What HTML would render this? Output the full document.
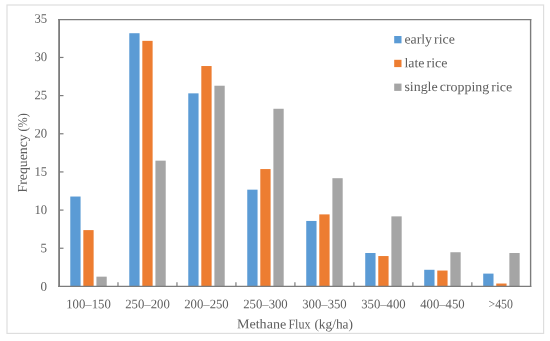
<!DOCTYPE html>
<html><head><meta charset="utf-8"><title>Methane Flux Frequency</title>
<style>html,body{margin:0;padding:0;background:#fff;overflow:hidden}svg{display:block}text{font-family:"Liberation Serif",serif;fill:#5e5e5e}</style></head>
<body>
<svg width="550" height="341" viewBox="0 0 550 341">
<rect x="0" y="0" width="550" height="341" fill="#fff"/>
<rect x="7" y="5" width="536.6" height="328.4" fill="none" stroke="#dedede" stroke-width="1.2"/>
<rect x="70.28" y="196.53" width="10.30" height="90.05" fill="#5b9bd5"/>
<rect x="83.33" y="230.11" width="10.30" height="56.47" fill="#ed7d31"/>
<rect x="96.43" y="276.66" width="10.30" height="9.92" fill="#a5a5a5"/>
<rect x="129.27" y="33.22" width="10.30" height="253.36" fill="#5b9bd5"/>
<rect x="142.32" y="40.85" width="10.30" height="245.73" fill="#ed7d31"/>
<rect x="155.42" y="160.66" width="10.30" height="125.92" fill="#a5a5a5"/>
<rect x="188.26" y="93.35" width="10.30" height="193.23" fill="#5b9bd5"/>
<rect x="201.31" y="66.03" width="10.30" height="220.55" fill="#ed7d31"/>
<rect x="214.41" y="85.72" width="10.30" height="200.86" fill="#a5a5a5"/>
<rect x="247.25" y="189.66" width="10.30" height="96.92" fill="#5b9bd5"/>
<rect x="260.30" y="169.06" width="10.30" height="117.52" fill="#ed7d31"/>
<rect x="273.40" y="108.77" width="10.30" height="177.81" fill="#a5a5a5"/>
<rect x="306.24" y="220.95" width="10.30" height="65.63" fill="#5b9bd5"/>
<rect x="319.29" y="214.39" width="10.30" height="72.19" fill="#ed7d31"/>
<rect x="332.39" y="178.21" width="10.30" height="108.37" fill="#a5a5a5"/>
<rect x="365.23" y="253.00" width="10.30" height="33.58" fill="#5b9bd5"/>
<rect x="378.28" y="256.05" width="10.30" height="30.53" fill="#ed7d31"/>
<rect x="391.38" y="216.37" width="10.30" height="70.21" fill="#a5a5a5"/>
<rect x="424.22" y="269.79" width="10.30" height="16.79" fill="#5b9bd5"/>
<rect x="437.27" y="270.55" width="10.30" height="16.03" fill="#ed7d31"/>
<rect x="450.37" y="252.24" width="10.30" height="34.34" fill="#a5a5a5"/>
<rect x="483.21" y="273.61" width="10.30" height="12.97" fill="#5b9bd5"/>
<rect x="496.26" y="283.53" width="10.30" height="3.05" fill="#ed7d31"/>
<rect x="509.36" y="253.00" width="10.30" height="33.58" fill="#a5a5a5"/>
<line x1="58.2" y1="19.6" x2="531.3" y2="19.6" stroke="#7c7c7c" stroke-width="1.2"/>
<line x1="58.2" y1="286.40" x2="531.3" y2="286.40" stroke="#7c7c7c" stroke-width="1.4"/>
<line x1="59.1" y1="19.0" x2="59.1" y2="287.10" stroke="#7c7c7c" stroke-width="1.8"/>
<line x1="530.60" y1="19.0" x2="530.60" y2="287.10" stroke="#7c7c7c" stroke-width="1.4"/>
<line x1="117.98" y1="286.40" x2="117.98" y2="282.20" stroke="#7c7c7c" stroke-width="1.2"/>
<line x1="176.96" y1="286.40" x2="176.96" y2="282.20" stroke="#7c7c7c" stroke-width="1.2"/>
<line x1="235.94" y1="286.40" x2="235.94" y2="282.20" stroke="#7c7c7c" stroke-width="1.2"/>
<line x1="294.92" y1="286.40" x2="294.92" y2="282.20" stroke="#7c7c7c" stroke-width="1.2"/>
<line x1="353.90" y1="286.40" x2="353.90" y2="282.20" stroke="#7c7c7c" stroke-width="1.2"/>
<line x1="412.88" y1="286.40" x2="412.88" y2="282.20" stroke="#7c7c7c" stroke-width="1.2"/>
<line x1="471.86" y1="286.40" x2="471.86" y2="282.20" stroke="#7c7c7c" stroke-width="1.2"/>
<line x1="59.40" y1="248.24" x2="63.50" y2="248.24" stroke="#7c7c7c" stroke-width="1.2"/>
<line x1="59.40" y1="210.09" x2="63.50" y2="210.09" stroke="#7c7c7c" stroke-width="1.2"/>
<line x1="59.40" y1="171.93" x2="63.50" y2="171.93" stroke="#7c7c7c" stroke-width="1.2"/>
<line x1="59.40" y1="133.77" x2="63.50" y2="133.77" stroke="#7c7c7c" stroke-width="1.2"/>
<line x1="59.40" y1="95.61" x2="63.50" y2="95.61" stroke="#7c7c7c" stroke-width="1.2"/>
<line x1="59.40" y1="57.46" x2="63.50" y2="57.46" stroke="#7c7c7c" stroke-width="1.2"/>
<text transform="rotate(0.04 47.10 290.65)" x="47.10" y="290.65" font-size="13" text-anchor="end" textLength="6.5" lengthAdjust="spacingAndGlyphs">0</text>
<text transform="rotate(0.04 47.10 252.39)" x="47.10" y="252.39" font-size="13" text-anchor="end" textLength="6.5" lengthAdjust="spacingAndGlyphs">5</text>
<text transform="rotate(0.04 47.10 214.14)" x="47.10" y="214.14" font-size="13" text-anchor="end" textLength="12.7" lengthAdjust="spacingAndGlyphs">10</text>
<text transform="rotate(0.04 47.10 175.88)" x="47.10" y="175.88" font-size="13" text-anchor="end" textLength="12.7" lengthAdjust="spacingAndGlyphs">15</text>
<text transform="rotate(0.04 47.10 137.63)" x="47.10" y="137.63" font-size="13" text-anchor="end" textLength="12.7" lengthAdjust="spacingAndGlyphs">20</text>
<text transform="rotate(0.04 47.10 99.37)" x="47.10" y="99.37" font-size="13" text-anchor="end" textLength="12.7" lengthAdjust="spacingAndGlyphs">25</text>
<text transform="rotate(0.04 47.10 61.12)" x="47.10" y="61.12" font-size="13" text-anchor="end" textLength="12.7" lengthAdjust="spacingAndGlyphs">30</text>
<text transform="rotate(0.04 47.10 22.87)" x="47.10" y="22.87" font-size="13" text-anchor="end" textLength="12.7" lengthAdjust="spacingAndGlyphs">35</text>
<text transform="rotate(0.04 88.50 308.20)" x="88.50" y="308.20" font-size="13" text-anchor="middle" textLength="44.5" lengthAdjust="spacingAndGlyphs">100–150</text>
<text transform="rotate(0.04 147.49 308.20)" x="147.49" y="308.20" font-size="13" text-anchor="middle" textLength="44.5" lengthAdjust="spacingAndGlyphs">250–200</text>
<text transform="rotate(0.04 206.48 308.20)" x="206.48" y="308.20" font-size="13" text-anchor="middle" textLength="44.5" lengthAdjust="spacingAndGlyphs">200–250</text>
<text transform="rotate(0.04 265.47 308.20)" x="265.47" y="308.20" font-size="13" text-anchor="middle" textLength="44.5" lengthAdjust="spacingAndGlyphs">250–300</text>
<text transform="rotate(0.04 324.46 308.20)" x="324.46" y="308.20" font-size="13" text-anchor="middle" textLength="44.5" lengthAdjust="spacingAndGlyphs">300–350</text>
<text transform="rotate(0.04 383.45 308.20)" x="383.45" y="308.20" font-size="13" text-anchor="middle" textLength="44.5" lengthAdjust="spacingAndGlyphs">350–400</text>
<text transform="rotate(0.04 442.44 308.20)" x="442.44" y="308.20" font-size="13" text-anchor="middle" textLength="44.5" lengthAdjust="spacingAndGlyphs">400–450</text>
<text transform="rotate(0.04 500.70 308.20)" x="500.70" y="308.20" font-size="13" text-anchor="middle" textLength="24.4" lengthAdjust="spacingAndGlyphs">&gt;450</text>
<text transform="rotate(0.04 295 328)" y="328.4" font-size="13.5"><tspan x="236.9" textLength="49.3" lengthAdjust="spacingAndGlyphs">Methane</tspan> <tspan x="288.4" textLength="22.2" lengthAdjust="spacingAndGlyphs">Flux</tspan> <tspan x="314.4" textLength="38.6" lengthAdjust="spacingAndGlyphs">(kg/ha)</tspan></text>
<text transform="rotate(-89.96)" y="27.0" font-size="13.4"><tspan x="-192.4" textLength="58.1" lengthAdjust="spacingAndGlyphs">Frequency</tspan> <tspan x="-131.5" textLength="18.2" lengthAdjust="spacingAndGlyphs">(%)</tspan></text>
<rect x="394.2" y="36.0" width="7.3" height="7.3" fill="#5b9bd5"/>
<text transform="rotate(0.04 404.40 43.50)" x="404.40" y="43.50" font-size="13.5" word-spacing="-1.4" textLength="50.4" lengthAdjust="spacingAndGlyphs">early rice</text>
<rect x="394.2" y="59.8" width="7.3" height="7.3" fill="#ed7d31"/>
<text transform="rotate(0.04 404.40 67.30)" x="404.40" y="67.30" font-size="13.5" word-spacing="-1.4" textLength="43.0" lengthAdjust="spacingAndGlyphs">late rice</text>
<rect x="394.2" y="83.6" width="7.3" height="7.3" fill="#a5a5a5"/>
<text transform="rotate(0.04 404.40 91.10)" x="404.40" y="91.10" font-size="13.5" word-spacing="-1.4" textLength="107.8" lengthAdjust="spacingAndGlyphs">single cropping rice</text>
</svg>
</body></html>
